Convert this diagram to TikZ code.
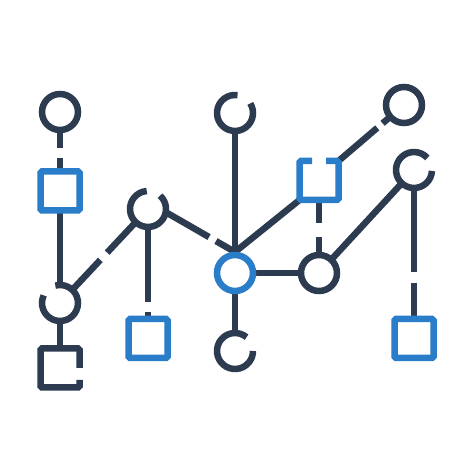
\documentclass[tikz,border=0pt]{standalone}
\usetikzlibrary{calc}
\definecolor{navy}{HTML}{2C3B50}
\definecolor{iblue}{HTML}{2A7DC8}
\pgfdeclarelayer{bg}
\pgfsetlayers{bg,main}
\begin{document}
\begin{tikzpicture}[x=1pt,y=1pt,
  ringshape/.style={circle,minimum size=36pt,inner sep=0pt,outer sep=0pt},
  navyring/.style={ringshape,draw=navy,line width=6.5pt},
  bluering/.style={ringshape,draw=iblue,line width=6.5pt},
  boxshape/.style={rectangle,minimum size=39pt,inner sep=0pt,outer sep=0pt},
  bluebox/.style={boxshape,draw=iblue,line width=6.5pt,rounded corners=1.5pt},
  conn/.style={draw=navy,line width=6.5pt},
  arcline/.style={draw=navy,line width=6.5pt},
  openbox/.style={line width=6.5pt,rounded corners=1.5pt}]
\useasboundingbox (0,0) rectangle (474,474);
% nodes
\node[navyring] (A) at (60,362) {};
\node[bluebox] (B) at (60,283) {};
\node[ringshape] (C) at (60,171) {};
\node[boxshape] (N) at (60,106) {};
\node[ringshape] (D) at (148,265) {};
\node[bluebox] (E) at (148,135.5) {};
\node[bluering] (F) at (235,201) {};
\node[ringshape] (G) at (235,361) {};
\node[ringshape] (M) at (235,123) {};
\node[boxshape] (H) at (319,293.5) {};
\node[navyring] (I) at (404,369) {};
\node[navyring] (J) at (319,201) {};
\node[ringshape] (K) at (414,304) {};
\node[bluebox] (L) at (414,135.5) {};
\coordinate (Ftop) at ([yshift=3pt]F.north);
% open rings
\draw[arcline] ([shift={(155:18pt)}]C.center) arc[start angle=155,end angle=465,radius=18pt];
\draw[arcline] ([shift={(94:18pt)}]D.center) arc[start angle=94,end angle=408,radius=18pt];
\draw[arcline] ([shift={(82:18pt)}]G.center) arc[start angle=82,end angle=392,radius=18pt];
\draw[arcline] ([shift={(50:18pt)}]M.center) arc[start angle=50,end angle=360,radius=18pt];
\draw[arcline] ([shift={(42:18pt)}]K.center) arc[start angle=42,end angle=357,radius=18pt];
% open boxes
\draw[openbox,draw=navy] (N.east) -- (N.north east) -- (N.north west) -- (N.south west) -- (N.south east) -- ([yshift=7.5pt]N.south east);
\draw[openbox,draw=iblue] ([xshift=-7pt]H.north) -- (H.north west) -- (H.south west) -- (H.south east) -- (H.north east) -- ([xshift=7pt]H.north);
% connectors
\begin{pgfonlayer}{bg}
\fill[white] (0,0) rectangle (474,474);
\draw[conn,dash pattern=on 18pt off 10pt on 200pt] (A.south) -- (B.north);
\draw[conn] (B.south) -- (C.north);
\draw[conn] (C.south) -- (N.north);
\draw[conn,dash pattern=on 41pt off 10pt on 200pt] (C) -- (D);
\draw[conn,dash pattern=on 75pt off 10pt on 200pt] (D.south) -- (E.north);
\draw[conn,dash pattern=on 50pt off 8pt on 200pt] (D.-10) -- (Ftop);
\draw[conn] (G.south) -- (Ftop);
\draw[conn] (Ftop) -- (H.south west);
\draw[conn,dash pattern=on 51pt off 7pt on 200pt] (H.north east) -- (I);
\draw[conn,dash pattern=on 23pt off 14pt on 200pt] (H.south) -- (J.north);
\draw[conn] (F) -- (J);
\draw[conn] (J) -- (K);
\draw[conn,dash pattern=on 84pt off 11pt on 200pt] (K.south) -- (L.north);
\draw[conn] (F.south) -- (M.north);
\end{pgfonlayer}
\end{tikzpicture}
\end{document}
